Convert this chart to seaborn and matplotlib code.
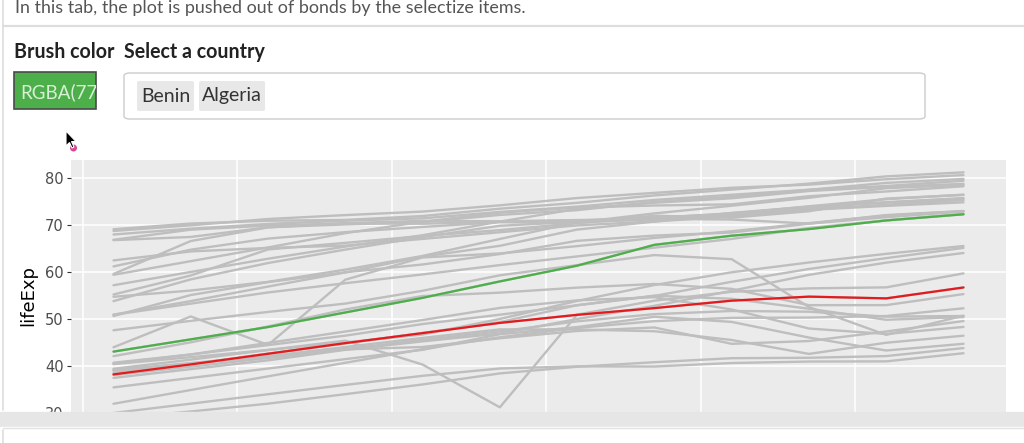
import numpy as np
import pandas as pd
import matplotlib
matplotlib.use("Agg")
import matplotlib.pyplot as plt
from matplotlib.patches import Rectangle, FancyBboxPatch, Polygon, Ellipse
from matplotlib.lines import Line2D
import seaborn as sns

# gapminder life expectancy, countries A..Czech Republic
years = [1952, 1957, 1962, 1967, 1972, 1977, 1982, 1987, 1992, 1997, 2002, 2007]

afghanistan = [28.801, 30.332, 31.997, 34.02, 36.088, 38.438, 39.854, 40.822, 41.674, 41.763, 42.129, 43.828]
albania = [55.23, 59.28, 64.82, 66.22, 67.69, 68.93, 70.42, 72.0, 71.581, 72.95, 75.651, 76.423]
algeria = [43.077, 45.685, 48.303, 51.407, 54.518, 58.014, 61.368, 65.799, 67.744, 69.152, 70.994, 72.301]
angola = [30.015, 31.999, 34.0, 35.985, 37.928, 39.483, 39.942, 39.906, 40.647, 40.963, 41.003, 42.731]
argentina = [62.485, 64.399, 65.142, 65.634, 67.065, 68.481, 69.942, 70.774, 71.868, 73.275, 74.34, 75.32]
australia = [69.12, 70.33, 70.93, 71.1, 71.93, 73.49, 74.74, 76.32, 77.56, 78.83, 80.37, 81.235]
austria = [66.8, 67.48, 69.54, 70.14, 70.63, 72.17, 73.18, 74.94, 76.04, 77.51, 78.98, 79.829]
bahrain = [50.939, 53.832, 56.923, 59.923, 63.3, 65.593, 69.052, 70.75, 72.601, 73.925, 74.795, 75.635]
bangladesh = [37.484, 39.348, 41.216, 43.453, 45.252, 46.923, 50.009, 52.819, 56.018, 59.412, 62.013, 64.062]
belgium = [68.0, 69.24, 70.25, 70.94, 71.44, 72.8, 73.93, 75.35, 76.46, 77.53, 78.32, 79.441]
benin = [38.223, 40.358, 42.618, 44.885, 47.014, 49.19, 50.904, 52.337, 53.919, 54.777, 54.406, 56.728]
bolivia = [40.414, 41.89, 43.428, 45.032, 46.714, 50.023, 53.859, 57.251, 59.957, 62.05, 63.883, 65.554]
bosnia = [53.82, 58.45, 61.93, 64.79, 67.45, 69.86, 70.69, 71.14, 72.178, 73.244, 74.09, 74.852]
botswana = [47.622, 49.618, 51.52, 53.298, 56.024, 59.319, 61.484, 63.622, 62.745, 52.556, 46.634, 50.728]
brazil = [50.917, 53.285, 55.665, 57.632, 59.504, 61.489, 63.336, 65.205, 67.057, 69.388, 71.006, 72.39]
bulgaria = [59.6, 66.61, 69.51, 70.42, 70.9, 70.81, 71.08, 71.34, 71.19, 70.32, 72.14, 73.005]
burkina_faso = [31.975, 34.906, 37.814, 40.697, 43.591, 46.137, 48.122, 49.557, 50.26, 50.324, 50.65, 52.295]
burundi = [39.031, 40.533, 42.045, 43.548, 44.057, 45.91, 47.471, 48.211, 44.736, 45.326, 47.36, 49.58]
cambodia = [39.417, 41.366, 43.415, 45.415, 40.317, 31.22, 50.957, 53.914, 55.803, 56.534, 56.752, 59.723]
cameroon = [38.523, 40.428, 42.643, 44.799, 47.049, 49.355, 52.961, 54.985, 54.314, 52.199, 49.856, 50.43]
canada = [68.75, 69.96, 71.3, 72.13, 72.88, 74.21, 75.76, 76.86, 77.95, 78.61, 79.77, 80.653]
central_african_rep = [35.463, 37.464, 39.475, 41.478, 43.457, 46.775, 48.295, 50.485, 49.396, 46.066, 43.308, 44.741]
chad = [38.092, 39.881, 41.716, 43.601, 45.569, 47.383, 49.517, 51.051, 51.724, 51.573, 50.525, 50.651]
chile = [54.745, 56.074, 57.924, 60.523, 63.441, 67.052, 70.565, 72.492, 74.126, 75.816, 77.86, 78.553]
china = [44.0, 50.549, 44.501, 58.381, 63.119, 63.967, 65.525, 67.274, 68.69, 70.426, 72.028, 72.961]
colombia = [50.643, 55.118, 57.863, 59.963, 61.623, 63.837, 66.653, 67.768, 68.421, 70.313, 71.682, 72.889]
comoros = [40.715, 42.46, 44.467, 46.472, 48.944, 50.939, 52.933, 54.926, 57.939, 60.66, 62.974, 65.152]
congo_dem_rep = [39.143, 40.652, 42.122, 44.056, 45.989, 47.804, 47.784, 47.412, 45.548, 42.587, 44.966, 46.462]
congo_rep = [42.111, 45.053, 48.435, 52.04, 54.907, 55.625, 56.695, 57.47, 56.433, 52.962, 52.97, 55.322]
costa_rica = [57.206, 60.026, 62.842, 65.424, 67.849, 70.75, 73.45, 74.752, 75.713, 77.26, 78.123, 78.782]
cote_divoire = [40.477, 42.469, 44.93, 47.35, 49.801, 52.374, 53.983, 54.655, 52.044, 47.991, 46.832, 48.328]
croatia = [61.21, 64.77, 67.13, 68.5, 69.61, 70.64, 70.46, 71.52, 72.527, 73.68, 74.876, 75.748]
cuba = [59.421, 62.325, 65.246, 68.29, 70.723, 72.649, 73.717, 74.174, 74.414, 76.151, 77.158, 78.273]
czech_republic = [66.87, 69.03, 69.9, 70.38, 70.29, 70.71, 70.96, 71.58, 72.4, 74.01, 75.51, 76.486]

countries = ["Afghanistan", "Albania", "Algeria", "Angola", "Argentina", "Australia",
             "Austria", "Bahrain", "Bangladesh", "Belgium", "Benin", "Bolivia",
             "Bosnia and Herzegovina", "Botswana", "Brazil", "Bulgaria", "Burkina Faso",
             "Burundi", "Cambodia", "Cameroon", "Canada", "Central African Republic",
             "Chad", "Chile", "China", "Colombia", "Comoros", "Congo, Dem. Rep.",
             "Congo, Rep.", "Costa Rica", "Cote d'Ivoire", "Croatia", "Cuba", "Czech Republic"]
life_exp = [afghanistan, albania, algeria, angola, argentina, australia, austria, bahrain,
            bangladesh, belgium, benin, bolivia, bosnia, botswana, brazil, bulgaria,
            burkina_faso, burundi, cambodia, cameroon, canada, central_african_rep, chad,
            chile, china, colombia, comoros, congo_dem_rep, congo_rep, costa_rica,
            cote_divoire, croatia, cuba, czech_republic]

selected = ["Benin", "Algeria"]
selected_colors = {"Benin": "#E41A1C", "Algeria": "#4DAF4A"}
x_breaks = [1950, 1960, 1970, 1980, 1990, 2000]
y_breaks = [30, 40, 50, 60, 70, 80]

df = pd.DataFrame({
    "country": np.repeat(countries, len(years)),
    "year": years * len(countries),
    "lifeExp": np.concatenate(life_exp),
})

W, H = 1024, 443
def fx(px):
    return px / W
def fy(py):
    return 1 - py / H

sns.set_style("white")
plt.rcParams['font.family'] = ['DejaVu Sans']
fig = plt.figure(figsize=(W / 100, H / 100), dpi=100)
fig.patch.set_facecolor("white")

# plot panel (its bottom part is hidden under the next page block)
ax = fig.add_axes([fx(71), fy(431), fx(1006) - fx(71), fy(160) - fy(431)])
ax.set_facecolor("#EBEBEB")
sns.lineplot(data=df, x="year", y="lifeExp", units="country", estimator=None,
             color="#BEBEBE", lw=1.7, ax=ax, legend=False)
sns.lineplot(data=df[df["country"].isin(selected)], x="year", y="lifeExp",
             hue="country", palette=selected_colors, units="country", estimator=None,
             lw=1.6, ax=ax, legend=False)

# ggplot style 5% expansion
x0, x1 = df["year"].min(), df["year"].max()
y0, y1 = df["lifeExp"].min(), df["lifeExp"].max()
ax.set_xlim(x0 - 0.05 * (x1 - x0), x1 + 0.05 * (x1 - x0))
ax.set_ylim(y0 - 0.05 * (y1 - y0), y1 + 0.05 * (y1 - y0))
ax.set_xticks(x_breaks)
ax.set_yticks(y_breaks)
ax.grid(True, color="white", lw=1.1)
ax.set_axisbelow(True)
for s in ax.spines.values():
    s.set_visible(False)
ax.tick_params(axis="y", length=2.8, width=0.8, color="#333333", labelcolor="#4D4D4D",
               labelsize=10.5, pad=2.5, left=True)
# x axis sits below the visible area
ax.tick_params(axis="x", bottom=False, labelbottom=False)
ax.set_xlabel("")
ax.set_ylabel("lifeExp", fontsize=13, color="black")
ax.yaxis.set_label_coords(-0.036, 0.5)

# page chrome around the plot
def add_rect(x, y, w, h, **kw):
    fig.add_artist(Rectangle((fx(x), fy(y + h)), w / W, h / H, transform=fig.transFigure, **kw))

add_rect(0, 412, W, 15, color="#E6E6E6", zorder=10)
add_rect(0, 427, W, 20, color="white", zorder=10)
fig.add_artist(Line2D([fx(3), fx(3)], [fy(430), fy(443)], transform=fig.transFigure,
                      color="#DDDDDD", lw=1.2, zorder=11))
fig.add_artist(Line2D([fx(3), fx(W)], [fy(428), fy(428)], transform=fig.transFigure,
                      color="#E2E2E2", lw=1.0, zorder=11))
fig.add_artist(Line2D([fx(2.5), fx(2.5)], [fy(0), fy(410)], transform=fig.transFigure,
                      color="#DDDDDD", lw=1.2, zorder=11))
fig.add_artist(Line2D([fx(3), fx(W)], [fy(25.5), fy(25.5)], transform=fig.transFigure,
                      color="#DDDDDD", lw=1.6, zorder=11))

ui_font = ["Lato", "DejaVu Sans"]
fig.text(fx(15), fy(8), "In this tab, the plot is pushed out of bonds by the selectize items.",
         fontsize=12.9, color="#555555", family=ui_font, va="center", ha="left")
fig.text(fx(14), fy(52), "Brush color", fontsize=14.1, color="#222222", family=ui_font,
         weight="bold", va="center", ha="left")
fig.text(fx(124), fy(52), "Select a country", fontsize=14.1, color="#222222", family=ui_font,
         weight="bold", va="center", ha="left")

# colour input
swatch = Rectangle((fx(14), fy(109)), 82 / W, 37 / H, transform=fig.transFigure,
                   facecolor="#4DAF4A", edgecolor="#4A4A4A", lw=1.2, zorder=5)
fig.add_artist(swatch)
t = fig.text(fx(20), fy(92), "RGBA(77", fontsize=13.5, color="#D9F0D8", family=ui_font,
             va="center", ha="left", zorder=6)
t.set_clip_path(swatch)

# selectize input
fig.add_artist(FancyBboxPatch((fx(124), fy(119)), (925 - 124) / W, 46 / H,
                              boxstyle="round,pad=0,rounding_size=0.006",
                              transform=fig.transFigure, facecolor="white",
                              edgecolor="#CCCCCC", lw=1.0, zorder=5))
for label, left, right in [("Benin", 137, 194), ("Algeria", 199, 265)]:
    fig.add_artist(FancyBboxPatch((fx(left), fy(111)), (right - left) / W, 30 / H,
                                  boxstyle="round,pad=0,rounding_size=0.003",
                                  transform=fig.transFigure, facecolor="#E8E8E8",
                                  edgecolor="none", zorder=6))
    fig.text(fx((left + right) / 2), fy(96), label, fontsize=14, color="#333333",
             family=ui_font, va="center", ha="center", zorder=7)

# mouse cursor
arrow = np.array([[0, 0], [0, 15], [3.5, 11.5], [6, 17], [8, 16], [5.5, 10.5], [10, 10.5]])
pts = [(fx(66 + px), fy(131 + py)) for px, py in arrow]
fig.add_artist(Ellipse((fx(73.5), fy(148)), 7 / W, 7 / H, transform=fig.transFigure,
                       facecolor="#D9449A", edgecolor="none", zorder=11))
fig.add_artist(Polygon(pts, closed=True, transform=fig.transFigure, facecolor="black",
                       edgecolor="white", lw=0.8, zorder=12))

fig.savefig("out.png", dpi=100)
